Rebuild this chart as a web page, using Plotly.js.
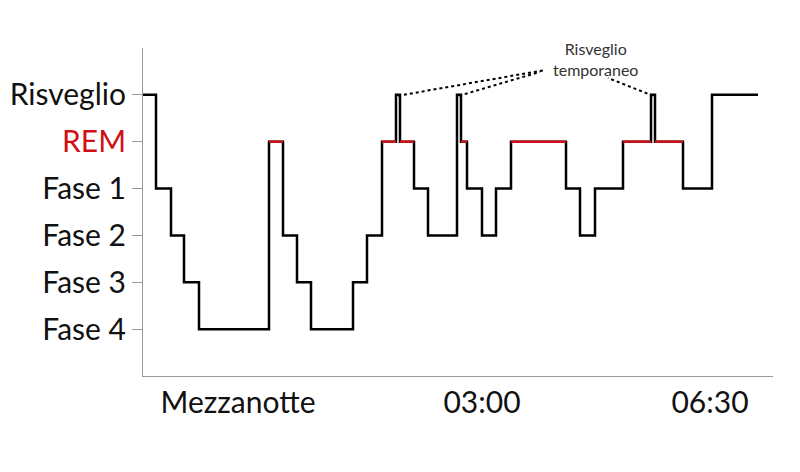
<!DOCTYPE html>
<html>
<head>
<meta charset="utf-8">
<script src="https://cdn.plot.ly/plotly-3.0.1.min.js"></script>
<style>html,body{margin:0;padding:0;background:#fff;}#chart{width:800px;height:472px;}</style>
</head>
<body>
<div id="chart"></div>
<script>
// Stage levels (value on the y axis) and their labels
const stageNames = ["Fase 4", "Fase 3", "Fase 2", "Fase 1", "REM", "Risveglio"];
const stageValues = [0, 1, 2, 3, 4, 5];

// Hypnogram: time of each change (arbitrary time units from start) and the stage entered
const changeTimes = [0, 13, 28, 41, 56, 126, 140, 154, 168, 210, 224, 239, 253, 257, 271, 285, 314, 318, 324, 339, 353, 368, 423, 437, 452, 480, 508, 512, 540, 569, 615];
const stages = ["Risveglio", "Fase 1", "Fase 2", "Fase 3", "Fase 4", "REM", "Fase 2", "Fase 3", "Fase 4", "Fase 3", "Fase 2", "REM", "Risveglio", "REM", "Fase 1", "Fase 2", "Risveglio", "REM", "Fase 1", "Fase 2", "Fase 1", "REM", "Fase 1", "Fase 2", "Fase 1", "REM", "Risveglio", "REM", "Fase 1", "Risveglio", "Risveglio"];

// X axis labels
const xTickPositions = [95, 339, 567];
const xTickLabels = ["Mezzanotte", "03:00", "06:30"];

// Brief awakenings pointed at by the note
const awakeningTimes = [255, 316, 510];
const noteText = "Risveglio<br>temporaneo";

const lev = s => stageValues[stageNames.indexOf(s)];
const yVals = stages.map(lev);

// Red REM horizontal segments from the data
const remX = [], remY = [];
for (let i = 0; i < stages.length - 1; i++) {
  if (stages[i] === "REM") {
    remX.push(changeTimes[i], changeTimes[i + 1], null);
    remY.push(lev("REM"), lev("REM"), null);
  }
}

const traces = [
  {x: changeTimes, y: yVals, mode: "lines", line: {shape: "hv", color: "#000", width: 2.5}, hoverinfo: "skip"},
  {x: remX, y: remY, mode: "lines", line: {color: "#d01018", width: 2.5}, hoverinfo: "skip", connectgaps: false}
];

const redColor = "#d01018";
const ticktext = stageNames.map(n => n === "REM" ? `<span style="color:${redColor}">REM</span>` : n);

// note anchor points
const noteEnds = [[402, 5.53], [397, 5.49], [465, 5.36]];
const shapes = awakeningTimes.map((t, i) => ({
  type: "line", xref: "x", yref: "y",
  x0: t, y0: lev("Risveglio") - 0.02, x1: noteEnds[i][0], y1: noteEnds[i][1],
  line: {color: "#000", width: 2, dash: "dot"}
}));

const layout = {
  width: 800, height: 472,
  margin: {l: 143, r: 27, t: 48, b: 96},
  paper_bgcolor: "#fff", plot_bgcolor: "#fff",
  showlegend: false,
  font: {family: "Lato, 'Open Sans', sans-serif", color: "#111"},
  xaxis: {
    range: [0, 630], showgrid: false, zeroline: false,
    showline: true, linecolor: "#999", linewidth: 1,
    tickmode: "array", tickvals: xTickPositions, ticktext: xTickLabels,
    ticks: "", tickfont: {size: 30, color: "#111"}
  },
  yaxis: {
    range: [-1, 6], showgrid: false, zeroline: false,
    showline: true, linecolor: "#999", linewidth: 1,
    tickmode: "array", tickvals: stageValues, ticktext: ticktext,
    ticks: "outside", ticklen: 10, tickcolor: "#999", tickwidth: 1,
    tickfont: {size: 30, color: "#111"}
  },
  shapes: shapes,
  annotations: [{
    x: 452, y: 5.77, xref: "x", yref: "y", text: noteText, showarrow: false,
    font: {size: 16, color: "#333"}, align: "center"
  }]
};

Plotly.newPlot("chart", traces, layout, {staticPlot: true, displayModeBar: false});
</script>
</body>
</html>
